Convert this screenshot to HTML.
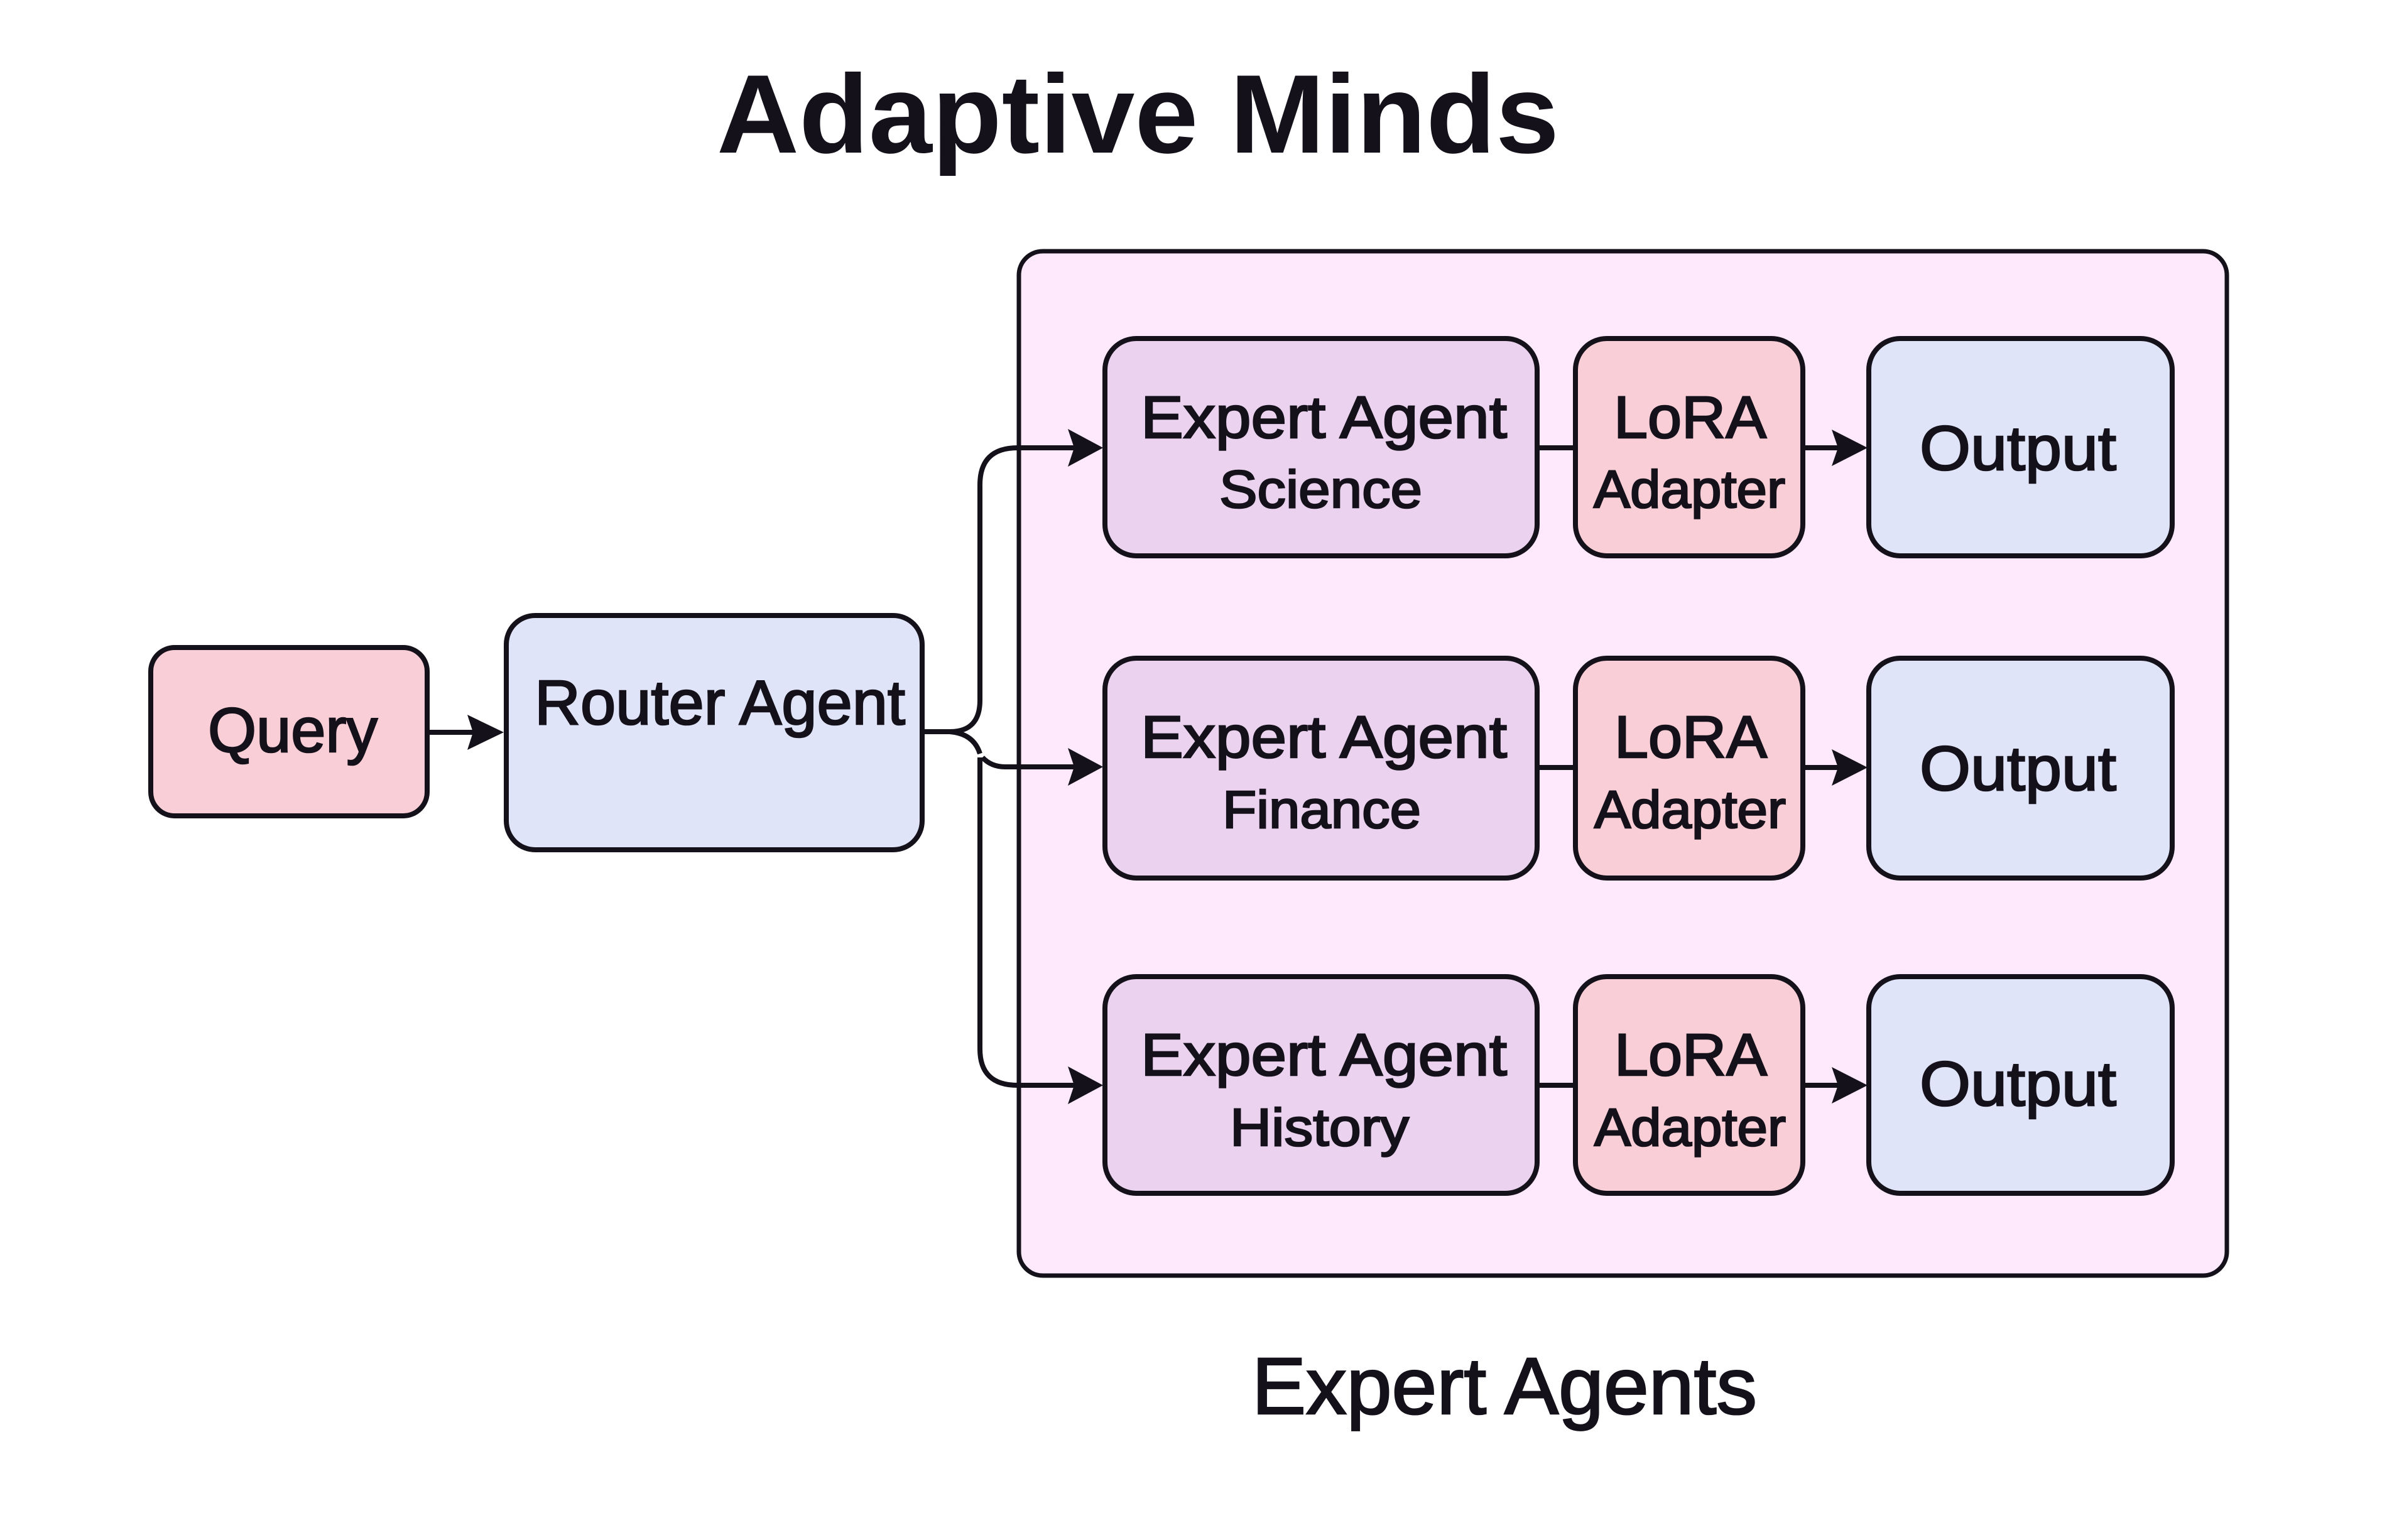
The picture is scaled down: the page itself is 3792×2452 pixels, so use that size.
<!DOCTYPE html>
<html><head><meta charset="utf-8"><style>
html,body{margin:0;padding:0;background:#fff;width:3792px;height:2452px;overflow:hidden}
svg{display:block}
text{font-family:"Liberation Sans",sans-serif;fill:#15111a;stroke:#15111a;stroke-width:2.6px}
.l{fill:none;stroke:#15111a;stroke-width:8}
.a{fill:#15111a;stroke:none}
</style></head><body>
<svg width="3792" height="2452" viewBox="0 0 3792 2452" xmlns="http://www.w3.org/2000/svg">
<rect width="3792" height="2452" fill="#fff"/>
<text x="1141" y="243" font-size="178" font-weight="700" textLength="1341" lengthAdjust="spacingAndGlyphs" style="stroke-width:0">Adaptive Minds</text>

<rect x="1622" y="400" width="1923" height="1631" rx="38" fill="#fde8fc" stroke="#15111a" stroke-width="7"/>

<rect x="240" y="1031" width="440" height="268" rx="38" fill="#f9ced7" stroke="#15111a" stroke-width="8"/>
<rect x="806" y="980" width="662" height="373" rx="46" fill="#e0e4f8" stroke="#15111a" stroke-width="8"/>
<text x="331" y="1197" font-size="100" textLength="270" lengthAdjust="spacingAndGlyphs">Query</text>
<text x="851" y="1153" font-size="100" textLength="590" lengthAdjust="spacingAndGlyphs">Router Agent</text>

<path class="l" d="M680 1166H755"/>
<path class="a" d="M744 1138L802 1166L744 1194L753 1166Z"/>

<path class="l" d="M1470 1165H1512Q1560 1165 1560 1115V772Q1560 713 1620 713H1712"/>
<path class="l" d="M1512 1165Q1550 1168 1560 1200"/>
<path class="l" d="M1564 1206Q1578 1221 1600 1221H1712"/>
<path class="l" d="M1560 1206V1670Q1560 1728 1620 1728H1712"/>

<g>
<rect x="1759" y="539" width="688" height="346" rx="50" fill="#ebd3f0" stroke="#15111a" stroke-width="8"/>
<rect x="2508" y="539" width="362" height="346" rx="50" fill="#f9ced7" stroke="#15111a" stroke-width="8"/>
<rect x="2975" y="539" width="483" height="346" rx="50" fill="#e0e4f8" stroke="#15111a" stroke-width="8"/>
<path class="l" d="M2447 713H2508M2870 713H2930"/>
<path class="a" d="M1700 683L1756 713L1700 743L1710 713Z"/>
<path class="a" d="M2916 684L2973 713L2916 742L2926 713Z"/>
<text x="1816" y="697" font-size="95" textLength="583" lengthAdjust="spacingAndGlyphs">Expert Agent</text>
<text x="1941" y="808" font-size="84" textLength="323" lengthAdjust="spacingAndGlyphs">Science</text>
<text x="2569" y="697" font-size="95" textLength="243" lengthAdjust="spacingAndGlyphs">LoRA</text>
<text x="2537" y="808" font-size="84" textLength="305" lengthAdjust="spacingAndGlyphs">Adapter</text>
<text x="3056" y="748" font-size="100" textLength="313" lengthAdjust="spacingAndGlyphs">Output</text>
</g>

<g>
<rect x="1759" y="1048" width="688" height="350" rx="50" fill="#ebd3f0" stroke="#15111a" stroke-width="8"/>
<rect x="2508" y="1048" width="362" height="350" rx="50" fill="#f9ced7" stroke="#15111a" stroke-width="8"/>
<rect x="2975" y="1048" width="483" height="350" rx="50" fill="#e0e4f8" stroke="#15111a" stroke-width="8"/>
<path class="l" d="M2447 1222H2508M2870 1222H2930"/>
<path class="a" d="M1700 1191L1756 1221L1700 1251L1710 1221Z"/>
<path class="a" d="M2916 1193L2973 1222L2916 1251L2926 1222Z"/>
<text x="1816" y="1206" font-size="95" textLength="583" lengthAdjust="spacingAndGlyphs">Expert Agent</text>
<text x="1946" y="1318" font-size="84" textLength="316" lengthAdjust="spacingAndGlyphs">Finance</text>
<text x="2570" y="1206" font-size="95" textLength="243" lengthAdjust="spacingAndGlyphs">LoRA</text>
<text x="2538" y="1318" font-size="84" textLength="305" lengthAdjust="spacingAndGlyphs">Adapter</text>
<text x="3056" y="1258" font-size="100" textLength="313" lengthAdjust="spacingAndGlyphs">Output</text>
</g>

<g>
<rect x="1759" y="1555" width="688" height="345" rx="50" fill="#ebd3f0" stroke="#15111a" stroke-width="8"/>
<rect x="2508" y="1555" width="362" height="345" rx="50" fill="#f9ced7" stroke="#15111a" stroke-width="8"/>
<rect x="2975" y="1555" width="483" height="345" rx="50" fill="#e0e4f8" stroke="#15111a" stroke-width="8"/>
<path class="l" d="M2447 1728H2508M2870 1728H2930"/>
<path class="a" d="M1700 1698L1756 1728L1700 1758L1710 1728Z"/>
<path class="a" d="M2916 1699L2973 1728L2916 1757L2926 1728Z"/>
<text x="1816" y="1712" font-size="95" textLength="583" lengthAdjust="spacingAndGlyphs">Expert Agent</text>
<text x="1958" y="1824" font-size="84" textLength="285" lengthAdjust="spacingAndGlyphs">History</text>
<text x="2570" y="1712" font-size="95" textLength="243" lengthAdjust="spacingAndGlyphs">LoRA</text>
<text x="2538" y="1824" font-size="84" textLength="305" lengthAdjust="spacingAndGlyphs">Adapter</text>
<text x="3056" y="1760" font-size="100" textLength="313" lengthAdjust="spacingAndGlyphs">Output</text>
</g>

<text x="1993" y="2251" font-size="128" textLength="804" lengthAdjust="spacingAndGlyphs">Expert Agents</text>
</svg>
</body></html>
